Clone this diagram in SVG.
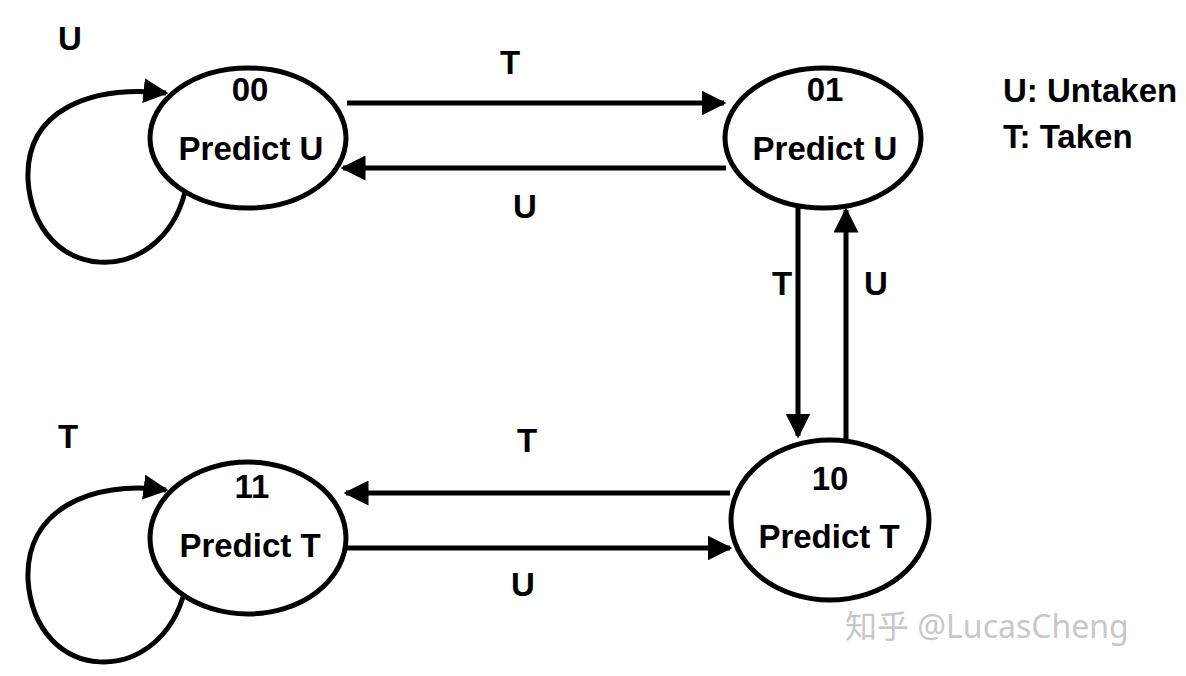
<svg xmlns="http://www.w3.org/2000/svg" width="1186" height="676" viewBox="0 0 1186 676">
<defs>
<marker id="ah" viewBox="0 0 10 10" refX="9" refY="5" markerWidth="5" markerHeight="5" orient="auto" markerUnits="strokeWidth"><path d="M0,0 L10,5 L0,10 Z" fill="#000"/></marker>
<style>
.n{fill:#fff;stroke:#000;stroke-width:5}
.t{font-family:"Liberation Sans",Arial,sans-serif;font-weight:bold;font-size:33px;fill:#000;text-anchor:middle}
.e{stroke:#000;stroke-width:5;fill:none;marker-end:url(#ah)}
</style>
</defs>
<rect width="1186" height="676" fill="#fff"/>
<g id="connectors">
<path class="e" d="M347,103 L724,103"/>
<path class="e" d="M726,168 L343,168"/>
<path class="e" d="M798,208 L798,436"/>
<path class="e" d="M846,440 L846,210"/>
<path class="e" d="M730,493 L346,493"/>
<path class="e" d="M347,548 L730,548"/>
<path class="e" d="M185,192 C160,290 35,285 28,180 C25,110 90,85 166,93"/>
<path class="e" d="M185,590 C160,690 35,685 28,580 C25,510 90,480 166,490"/>
</g>
<g id="n00"><ellipse class="n" cx="248" cy="138" rx="98" ry="70"/><text class="t" x="250" y="101">00</text><text class="t" x="251" y="160">Predict U</text></g>
<g id="n01"><ellipse class="n" cx="823" cy="138" rx="98" ry="70"/><text class="t" x="825" y="101">01</text><text class="t" x="825" y="160">Predict U</text></g>
<g id="n11"><ellipse class="n" cx="248" cy="538" rx="98" ry="76"/><text class="t" x="252" y="498">11</text><text class="t" x="250" y="557">Predict T</text></g>
<g id="n10"><ellipse class="n" cx="830" cy="520" rx="99" ry="80"/><text class="t" x="830" y="490">10</text><text class="t" x="829" y="548">Predict T</text></g>
<g id="labels">
<text class="t" x="510" y="74">T</text>
<text class="t" x="525" y="218">U</text>
<text class="t" x="782" y="295">T</text>
<text class="t" x="876" y="295">U</text>
<text class="t" x="527" y="452">T</text>
<text class="t" x="523" y="596">U</text>
<text class="t" x="70" y="50">U</text>
<text class="t" x="68" y="448">T</text>
<text class="t" x="1003" y="102" style="text-anchor:start">U: Untaken</text>
<text class="t" x="1003" y="148" style="text-anchor:start">T: Taken</text>
<text x="845" y="638" style="font-family:'Noto Sans','Noto Sans CJK SC',sans-serif;font-size:32px;fill:#c8c8c8">知乎 @LucasCheng</text>
</g>
</svg>
